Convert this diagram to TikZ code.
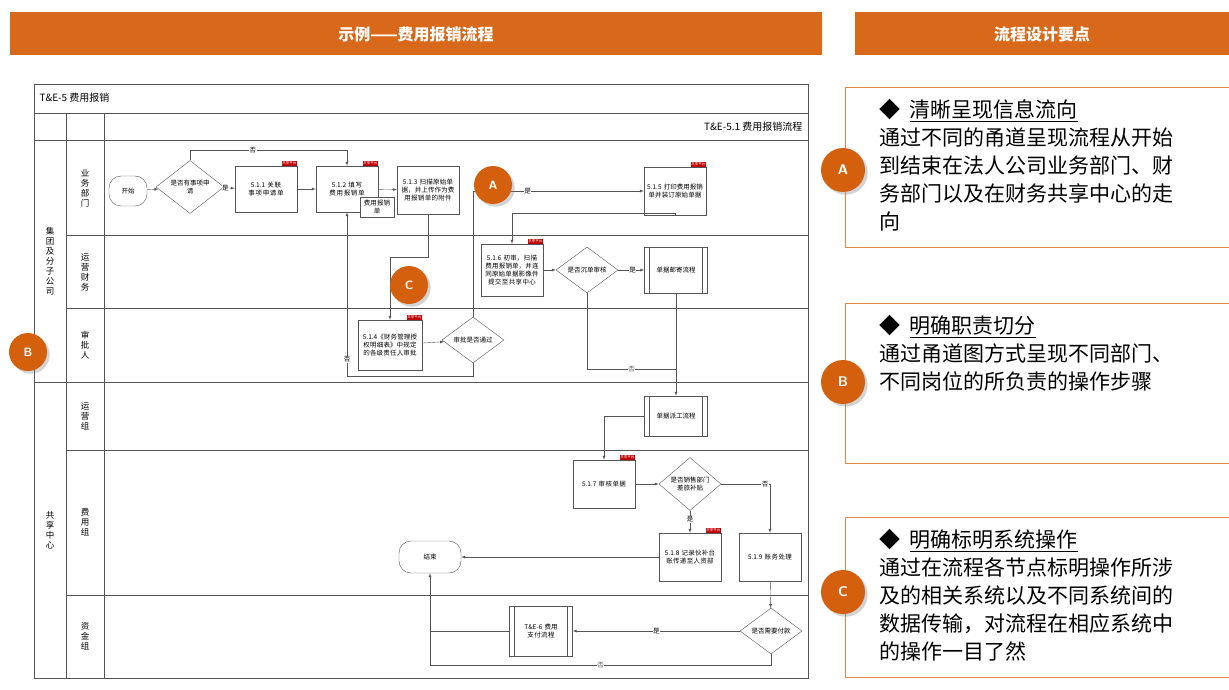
\documentclass[tikz,border=0pt]{standalone}
\usepackage{fontspec}
\setmainfont{Noto Sans CJK SC}
\XeTeXlinebreaklocale "zh"
\XeTeXlinebreakskip=0pt plus 1pt
\usetikzlibrary{shapes.geometric,positioning,shadows}
\definecolor{bar}{HTML}{D9691A}
\definecolor{dot}{HTML}{D4600E}
\definecolor{tagred}{HTML}{C00000}
\definecolor{frame}{HTML}{555555}

\tikzset{
  proc/.style={draw=frame,fill=white,align=center,inner sep=1pt,
    font=\fontsize{6.5}{8}\selectfont},
  dia/.style={diamond,draw=frame,fill=white,align=center,inner sep=0pt,
    font=\fontsize{6.5}{8}\selectfont},
  term/.style={proc,rounded corners=12pt},
  sub/.style={proc,path picture={
    \draw[frame] ([xshift=5pt]path picture bounding box.north west)--([xshift=5pt]path picture bounding box.south west);
    \draw[frame] ([xshift=-5pt]path picture bounding box.north east)--([xshift=-5pt]path picture bounding box.south east);}},
  tag/.style={fill=tagred,text=white,inner sep=0.6pt,font=\fontsize{3.5}{3.5}\selectfont},
  flow/.style={draw=frame,-latex},
  lbl/.style={fill=white,inner sep=0.5pt,font=\fontsize{6.5}{7}\selectfont},
  lane/.style={align=center,text width=9pt,font=\fontsize{8.5}{10}\selectfont},
  badge/.style={circle,fill=dot,text=white,minimum size=44pt,inner sep=0pt,
    font=\fontsize{14}{14}\sffamily\bfseries,drop shadow={opacity=0.35}},
  sbadge/.style={badge,minimum size=38pt,font=\fontsize{12}{12}\sffamily\bfseries},
  note/.style={draw=bar!80,line width=0.6pt},
  notetext/.style={anchor=north west,align=left,font=\fontsize{21}{28}\selectfont}
}

\begin{document}
\begin{tikzpicture}[x=1pt,y=-1pt]
\useasboundingbox (0,0) rectangle (1229,690);

% header bars
\node[fill=bar,text=white,minimum width=812pt,minimum height=43pt,
  font=\fontsize{16}{16}\bfseries\selectfont] (hd1) at (416,34) {示例——费用报销流程};
\node[fill=bar,text=white,minimum width=374pt,minimum height=43pt,
  font=\fontsize{16}{16}\bfseries\selectfont] (hd2) at (1042,34) {流程设计要点};

% frame and lanes
\draw[frame,line width=0.8pt] (34,84) rectangle (808,678);
\draw[frame] (34,113) -- (808,113);
\draw[frame] (34,140) -- (808,140);
\draw[frame] (34,382) -- (808,382);
\foreach \y in {235,308,450,595}
  \draw[frame] (66,\y) -- (808,\y);
\draw[frame] (66,113) -- (66,678);
\draw[frame] (104,113) -- (104,678);
\node[anchor=west,font=\fontsize{10}{10}\selectfont] (ttl) at (36,98) {T\&E-5 费用报销};
\node[anchor=east,font=\fontsize{10}{10}\selectfont] (sub1) at (806,127) {T\&E-5.1 费用报销流程};

\node[lane] (g1) at (50,261) {集团及分子公司};
\node[lane] (g2) at (50,530) {共享中心};
\node[lane] (l1) at (85,188) {业务部门};
\node[lane] (l2) at (85,272) {运营财务};
\node[lane] (l3) at (85,345) {审批人};
\node[lane] (l4) at (85,416) {运营组};
\node[lane] (l5) at (85,522) {费用组};
\node[lane] (l6) at (85,636) {资金组};

% process
\node[term,minimum width=38pt,minimum height=30pt] (start) at (128,191) {开始};
\node[dia,minimum width=68pt,minimum height=44pt] (d1) at (190,187) {是否有事项申\\请};
\node[proc,minimum width=62pt,minimum height=46pt,text width=52pt] (p511) at (266,189) {5.1.1 关联事项申请单};
\node[proc,minimum width=62pt,minimum height=46pt,text width=52pt] (p512) at (347,189) {5.1.2 填写费用报销单\\[8pt]};
\node[proc,minimum width=34pt,minimum height=20pt,text width=30pt] (doc) at (377,207) {费用报销\\单};
\node[proc,minimum width=62pt,minimum height=48pt,text width=56pt] (p513) at (428,190) {5.1.3 扫描原始单据，并上传作为费用报销单的附件};
\node[proc,minimum width=62pt,minimum height=48pt,text width=56pt] (p515) at (675,191) {5.1.5 打印费用报销单并装订原始单据};
\node[proc,minimum width=62pt,minimum height=52pt,text width=58pt] (p516) at (512,270) {5.1.6 初审，扫描费用报销单，并连同原始单据影像件提交至共享中心};
\node[dia,minimum width=62pt,minimum height=46pt] (d2) at (587,270) {是否沉单审核};
\node[sub,minimum width=63pt,minimum height=46pt] (s1) at (676,270) {单据邮寄流程};
\node[proc,minimum width=64pt,minimum height=50pt,text width=58pt] (p514) at (390,345) {5.1.4《财务管理授权明细表》中规定的各级责任人审批};
\node[dia,minimum width=62pt,minimum height=46pt] (d3) at (473,340) {审批是否通过};
\node[sub,minimum width=63pt,minimum height=40pt] (s2) at (676,416) {单据派工流程};
\node[proc,minimum width=62pt,minimum height=48pt,text width=56pt] (p517) at (604,484) {5.1.7 审核单据};
\node[dia,minimum width=62pt,minimum height=46pt] (d4) at (690,484) {是否销售部门\\差旅补贴};
\node[proc,minimum width=62pt,minimum height=48pt,text width=56pt] (p518) at (690,557) {5.1.8 记录伙补台账传递至人资部};
\node[proc,minimum width=62pt,minimum height=48pt,text width=56pt] (p519) at (770,557) {5.1.9 账务处理};
\node[term,minimum width=62pt,minimum height=32pt] (end) at (430,557) {结束};
\node[dia,minimum width=62pt,minimum height=46pt] (d5) at (771,631) {是否需要付款};
\node[sub,minimum width=63pt,minimum height=50pt,text width=36pt] (s3) at (541,631) {T\&E-6 费用支付流程};

% platform tags
\foreach \n in {p511,p512,p514,p516,p515,p517,p518}
  \node[tag,anchor=south east] at (\n.north east) {共享平台};

% connectors
\coordinate (k1) at (390,257);
\coordinate (k2) at (347,376);
\coordinate (k3) at (512,213);
\coordinate (k4) at (676,369);
\coordinate (k5) at (430,665);
\coordinate (k6) at (430,631);
\coordinate (k7) at (347,150);
\draw[flow] (start) -- (d1);
\draw[flow] (d1) -- node[lbl,pos=0.2]{是} (p511);
\draw[flow] (d1.north) |- node[lbl,pos=0.7]{否} (k7) -- (p512.north);
\draw[flow] (p511) -- (p512);
\draw[flow] (p512) -- (p513);
\draw[flow] (p513.south) |- (k1) -- (p514.north);
\draw[flow] (p514) -- (d3);
\draw[flow] (d3.south) |- (k2) -- node[lbl,pos=0.1]{否} (p512.south);
\draw[flow] (d3.north) |- node[lbl,pos=0.66]{是} (p515.west);
\draw[flow] (p515.south) |- (k3) -- (p516.north);
\draw[flow] (p516) -- (d2);
\draw[flow] (d2) -- node[lbl,pos=0.55]{是} (s1);
\draw[frame] (d2.south) |- node[lbl,pos=0.75]{否} (k4);
\draw[flow] (s1.south) -- (s2.north);
\draw[flow] (s2.west) -| (p517.north);
\draw[flow] (p517) -- (d4);
\draw[flow] (d4.east) -| node[lbl,pos=0.45]{否} (p519.north);
\draw[flow] (d4.south) -- node[lbl,pos=0.4]{是} (p518.north);
\draw[flow] (p518) -- (end);
\draw[flow] (p519) -- (d5);
\draw[flow] (d5) -- node[lbl]{是} (s3);
\draw[flow] (s3.west) -| (end.south);
\draw[frame] (d5.south) |- node[lbl,pos=0.75]{否} (k5) -- (k6);

% markers
\node[sbadge] (ma) at (493,185) {A};
\node[sbadge] (mc) at (409,285) {C};
\node[sbadge] (mb) at (28,352) {B};

% design notes
\draw[note] (845,87) rectangle (1229,247);
\draw[note] (845,303) rectangle (1229,463);
\draw[note] (845,517) rectangle (1229,677);
\node[badge] (na) at (843,170) {A};
\node[badge] (nb) at (843,382) {B};
\node[badge] (nc) at (843,592) {C};
\node[notetext] (ta) at (876,96) {◆\ \ \underline{清晰呈现信息流向}\\通过不同的甬道呈现流程从开始\\到结束在法人公司业务部门、财\\务部门以及在财务共享中心的走\\向};
\node[notetext] (tb) at (876,312) {◆\ \ \underline{明确职责切分}\\通过甬道图方式呈现不同部门、\\不同岗位的所负责的操作步骤};
\node[notetext] (tc) at (876,526) {◆\ \ \underline{明确标明系统操作}\\通过在流程各节点标明操作所涉\\及的相关系统以及不同系统间的\\数据传输，对流程在相应系统中\\的操作一目了然};
\end{tikzpicture}
\end{document}
